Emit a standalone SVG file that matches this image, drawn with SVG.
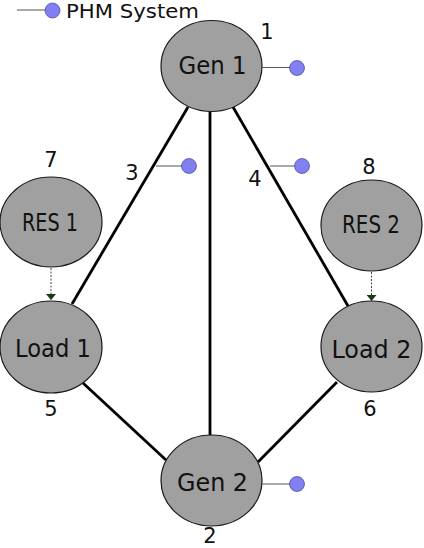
<svg xmlns="http://www.w3.org/2000/svg" width="424" height="548" viewBox="0 0 424 548">
<style>
.node{fill:#a0a0a0;stroke:#1a1a1a;stroke-width:1.2}
.lbl{font-family:"DejaVu Sans",Verdana,sans-serif;font-size:25px;fill:#111;text-anchor:middle}
.num{font-family:"DejaVu Sans",Verdana,sans-serif;font-size:21px;fill:#111;text-anchor:middle}
.edge{stroke:#000;stroke-width:2.8;fill:none}
.phm{stroke:#555;stroke-width:1;fill:none}
.dot{fill:#8080f2;stroke:#303080;stroke-width:0.6}
.dash{stroke:#444;stroke-width:1;stroke-dasharray:2,1.5;fill:none}
</style>
<defs>
<marker id="arr" viewBox="0 0 6 10" refX="6" refY="5" markerWidth="6" markerHeight="10" markerUnits="userSpaceOnUse" orient="auto">
<path d="M0,0 L6,5 L0,10 Z" fill="#1a3a1a"/>
</marker>
</defs>
<g id="legend">
<line class="phm" x1="17" y1="10" x2="45" y2="10"/>
<circle class="dot" cx="52.5" cy="10.5" r="7.5"/>
<text x="66" y="18" font-family="DejaVu Sans,Verdana,sans-serif" font-size="19" fill="#111" textLength="133" lengthAdjust="spacingAndGlyphs">PHM System</text>
</g>
<g id="connectors">
<line class="edge" x1="188" y1="107" x2="72" y2="304"/>
<line class="edge" x1="210" y1="111" x2="210" y2="435"/>
<line class="edge" x1="233" y1="107" x2="348" y2="306"/>
<line class="edge" x1="83" y1="383" x2="166" y2="460"/>
<line class="edge" x1="337" y1="382" x2="258" y2="462"/>
<line class="dash" x1="51" y1="268" x2="51" y2="300" marker-end="url(#arr)"/>
<line class="dash" x1="371.5" y1="272" x2="371.5" y2="301" marker-end="url(#arr)"/>
</g>
<g id="phm3">
<line class="phm" x1="156" y1="166" x2="182" y2="166"/>
<circle class="dot" cx="189" cy="166" r="7.5"/>
<text class="num" x="132" y="180">3</text>
</g>
<g id="phm4">
<line class="phm" x1="270" y1="166" x2="295" y2="166"/>
<circle class="dot" cx="302" cy="166" r="7.5"/>
<text class="num" x="255" y="186">4</text>
</g>
<g id="gen1">
<ellipse class="node" cx="211.5" cy="66" rx="50.5" ry="45.5"/>
<text class="lbl" x="212.5" y="74" textLength="68" lengthAdjust="spacingAndGlyphs">Gen 1</text>
<line class="phm" x1="262" y1="67.5" x2="290" y2="67.5"/>
<circle class="dot" cx="297" cy="68" r="7.5"/>
<text class="num" x="267" y="39">1</text>
</g>
<g id="res1">
<ellipse class="node" cx="51" cy="222" rx="51" ry="45"/>
<text class="lbl" x="50" y="231" textLength="56" lengthAdjust="spacingAndGlyphs">RES 1</text>
<text class="num" x="51" y="167">7</text>
</g>
<g id="res2">
<ellipse class="node" cx="371.5" cy="225.5" rx="50.5" ry="45.5"/>
<text class="lbl" x="371" y="233" textLength="58" lengthAdjust="spacingAndGlyphs">RES 2</text>
<text class="num" x="369" y="174">8</text>
</g>
<g id="load1">
<ellipse class="node" cx="51" cy="347" rx="51" ry="46"/>
<text class="lbl" x="53" y="357" textLength="76" lengthAdjust="spacingAndGlyphs">Load 1</text>
<text class="num" x="51" y="416">5</text>
</g>
<g id="load2">
<ellipse class="node" cx="371.5" cy="346.5" rx="50.5" ry="45.5"/>
<text class="lbl" x="371.5" y="358" textLength="80" lengthAdjust="spacingAndGlyphs">Load 2</text>
<text class="num" x="370" y="416">6</text>
</g>
<g id="gen2">
<ellipse class="node" cx="211.5" cy="480.5" rx="50.5" ry="45.5"/>
<text class="lbl" x="212.5" y="491" textLength="71" lengthAdjust="spacingAndGlyphs">Gen 2</text>
<line class="phm" x1="262" y1="484" x2="290" y2="484"/>
<circle class="dot" cx="297" cy="484" r="7.5"/>
<text class="num" x="210" y="543" font-size="20">2</text>
</g>
</svg>
